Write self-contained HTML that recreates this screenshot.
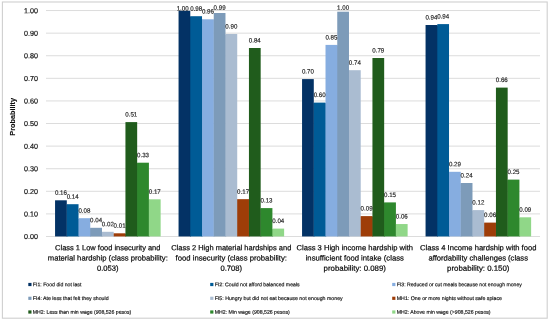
<!DOCTYPE html>
<html lang="en"><head><meta charset="utf-8"><title>Latent class probabilities</title>
<style>html,body{margin:0;padding:0;background:#fff}svg{display:block}
text{font-family:"Liberation Sans",sans-serif;fill:#111}
.ax{stroke:#111;stroke-width:.18px}
.cl{fill:#080808;stroke:#080808;stroke-width:.2px}
.dl{fill:#1c1c1c;stroke:#1c1c1c;stroke-width:.15px}
.lg{fill:#111;stroke:#111;stroke-width:.16px}
.yt{font-weight:bold;stroke:#111;stroke-width:.12px}
</style></head><body>
<svg width="550" height="321" viewBox="0 0 550 321">
<rect x="0" y="0" width="550" height="321" fill="#fff"/>
<rect x="2.4" y="2" width="544.8" height="316.2" fill="#fff" stroke="#cfcfcf" stroke-width="1.1"/>
<line x1="46.0" x2="540.0" y1="236.50" y2="236.50" stroke="#dcdcdc" stroke-width="1"/>
<text transform="translate(37.90,239.10) rotate(0.03)" font-size="7.2" text-anchor="end" textLength="14.0" lengthAdjust="spacingAndGlyphs" class="ax">0.00</text>
<line x1="46.0" x2="540.0" y1="213.91" y2="213.91" stroke="#dcdcdc" stroke-width="1"/>
<text transform="translate(37.90,216.50) rotate(0.03)" font-size="7.2" text-anchor="end" textLength="14.0" lengthAdjust="spacingAndGlyphs" class="ax">0.10</text>
<line x1="46.0" x2="540.0" y1="191.31" y2="191.31" stroke="#dcdcdc" stroke-width="1"/>
<text transform="translate(37.90,193.91) rotate(0.03)" font-size="7.2" text-anchor="end" textLength="14.0" lengthAdjust="spacingAndGlyphs" class="ax">0.20</text>
<line x1="46.0" x2="540.0" y1="168.72" y2="168.72" stroke="#dcdcdc" stroke-width="1"/>
<text transform="translate(37.90,171.31) rotate(0.03)" font-size="7.2" text-anchor="end" textLength="14.0" lengthAdjust="spacingAndGlyphs" class="ax">0.30</text>
<line x1="46.0" x2="540.0" y1="146.12" y2="146.12" stroke="#dcdcdc" stroke-width="1"/>
<text transform="translate(37.90,148.72) rotate(0.03)" font-size="7.2" text-anchor="end" textLength="14.0" lengthAdjust="spacingAndGlyphs" class="ax">0.40</text>
<line x1="46.0" x2="540.0" y1="123.53" y2="123.53" stroke="#dcdcdc" stroke-width="1"/>
<text transform="translate(37.90,126.12) rotate(0.03)" font-size="7.2" text-anchor="end" textLength="14.0" lengthAdjust="spacingAndGlyphs" class="ax">0.50</text>
<line x1="46.0" x2="540.0" y1="100.93" y2="100.93" stroke="#dcdcdc" stroke-width="1"/>
<text transform="translate(37.90,103.53) rotate(0.03)" font-size="7.2" text-anchor="end" textLength="14.0" lengthAdjust="spacingAndGlyphs" class="ax">0.60</text>
<line x1="46.0" x2="540.0" y1="78.34" y2="78.34" stroke="#dcdcdc" stroke-width="1"/>
<text transform="translate(37.90,80.94) rotate(0.03)" font-size="7.2" text-anchor="end" textLength="14.0" lengthAdjust="spacingAndGlyphs" class="ax">0.70</text>
<line x1="46.0" x2="540.0" y1="55.74" y2="55.74" stroke="#dcdcdc" stroke-width="1"/>
<text transform="translate(37.90,58.34) rotate(0.03)" font-size="7.2" text-anchor="end" textLength="14.0" lengthAdjust="spacingAndGlyphs" class="ax">0.80</text>
<line x1="46.0" x2="540.0" y1="33.15" y2="33.15" stroke="#dcdcdc" stroke-width="1"/>
<text transform="translate(37.90,35.75) rotate(0.03)" font-size="7.2" text-anchor="end" textLength="14.0" lengthAdjust="spacingAndGlyphs" class="ax">0.90</text>
<line x1="46.0" x2="540.0" y1="10.55" y2="10.55" stroke="#dcdcdc" stroke-width="1"/>
<text transform="translate(37.90,13.15) rotate(0.03)" font-size="7.2" text-anchor="end" textLength="14.0" lengthAdjust="spacingAndGlyphs" class="ax">1.00</text>
<rect x="55.06" y="200.30" width="11.73" height="36.15" fill="#033265"/>
<rect x="66.50" y="204.70" width="1" height="31.75" fill="#033265"/>
<rect x="66.80" y="204.20" width="11.73" height="32.25" fill="#005b96"/>
<rect x="78.23" y="218.70" width="1" height="17.75" fill="#005b96"/>
<rect x="78.53" y="218.20" width="11.73" height="18.25" fill="#86ade0"/>
<rect x="89.96" y="228.30" width="1" height="8.15" fill="#86ade0"/>
<rect x="90.25" y="227.80" width="11.73" height="8.65" fill="#7d9bb9"/>
<rect x="101.69" y="232.30" width="1" height="4.15" fill="#7d9bb9"/>
<rect x="101.98" y="231.80" width="11.73" height="4.65" fill="#aabcd1"/>
<rect x="113.42" y="233.80" width="1" height="2.65" fill="#aabcd1"/>
<rect x="113.72" y="233.30" width="11.73" height="3.15" fill="#9e3d08"/>
<rect x="125.15" y="233.80" width="1" height="2.65" fill="#9e3d08"/>
<rect x="125.44" y="122.10" width="11.73" height="114.35" fill="#205c1c"/>
<rect x="136.87" y="163.20" width="1" height="73.25" fill="#205c1c"/>
<rect x="137.18" y="162.70" width="11.73" height="73.75" fill="#2e882d"/>
<rect x="148.60" y="199.80" width="1" height="36.65" fill="#2e882d"/>
<rect x="148.91" y="199.30" width="11.73" height="37.15" fill="#90d788"/>
<rect x="178.56" y="10.80" width="11.73" height="225.65" fill="#033265"/>
<rect x="189.99" y="16.70" width="1" height="219.75" fill="#033265"/>
<rect x="190.29" y="16.20" width="11.73" height="220.25" fill="#005b96"/>
<rect x="201.72" y="19.80" width="1" height="216.65" fill="#005b96"/>
<rect x="202.03" y="19.30" width="11.73" height="217.15" fill="#86ade0"/>
<rect x="213.45" y="19.80" width="1" height="216.65" fill="#86ade0"/>
<rect x="213.75" y="13.00" width="11.73" height="223.45" fill="#7d9bb9"/>
<rect x="225.18" y="34.50" width="1" height="201.95" fill="#7d9bb9"/>
<rect x="225.49" y="34.00" width="11.73" height="202.45" fill="#aabcd1"/>
<rect x="236.91" y="199.65" width="1" height="36.80" fill="#aabcd1"/>
<rect x="237.22" y="199.15" width="11.73" height="37.30" fill="#9e3d08"/>
<rect x="248.64" y="199.65" width="1" height="36.80" fill="#9e3d08"/>
<rect x="248.94" y="48.00" width="11.73" height="188.45" fill="#205c1c"/>
<rect x="260.38" y="208.60" width="1" height="27.85" fill="#205c1c"/>
<rect x="260.68" y="208.10" width="11.73" height="28.35" fill="#2e882d"/>
<rect x="272.11" y="229.10" width="1" height="7.35" fill="#2e882d"/>
<rect x="272.40" y="228.60" width="11.73" height="7.85" fill="#90d788"/>
<rect x="302.06" y="79.10" width="11.73" height="157.35" fill="#033265"/>
<rect x="313.50" y="103.10" width="1" height="133.35" fill="#033265"/>
<rect x="313.80" y="102.60" width="11.73" height="133.85" fill="#005b96"/>
<rect x="325.23" y="103.10" width="1" height="133.35" fill="#005b96"/>
<rect x="325.52" y="44.90" width="11.73" height="191.55" fill="#86ade0"/>
<rect x="336.95" y="45.40" width="1" height="191.05" fill="#86ade0"/>
<rect x="337.25" y="11.70" width="11.73" height="224.75" fill="#7d9bb9"/>
<rect x="348.69" y="70.70" width="1" height="165.75" fill="#7d9bb9"/>
<rect x="348.99" y="70.20" width="11.73" height="166.25" fill="#aabcd1"/>
<rect x="360.42" y="216.60" width="1" height="19.85" fill="#aabcd1"/>
<rect x="360.72" y="216.10" width="11.73" height="20.35" fill="#9e3d08"/>
<rect x="372.15" y="216.60" width="1" height="19.85" fill="#9e3d08"/>
<rect x="372.44" y="58.00" width="11.73" height="178.45" fill="#205c1c"/>
<rect x="383.88" y="202.90" width="1" height="33.55" fill="#205c1c"/>
<rect x="384.18" y="202.40" width="11.73" height="34.05" fill="#2e882d"/>
<rect x="395.61" y="224.55" width="1" height="11.90" fill="#2e882d"/>
<rect x="395.90" y="224.05" width="11.73" height="12.40" fill="#90d788"/>
<rect x="425.56" y="25.00" width="11.73" height="211.45" fill="#033265"/>
<rect x="437.00" y="25.50" width="1" height="210.95" fill="#033265"/>
<rect x="437.30" y="24.10" width="11.73" height="212.35" fill="#005b96"/>
<rect x="448.73" y="172.30" width="1" height="64.15" fill="#005b96"/>
<rect x="449.02" y="171.80" width="11.73" height="64.65" fill="#86ade0"/>
<rect x="460.45" y="183.50" width="1" height="52.95" fill="#86ade0"/>
<rect x="460.75" y="183.00" width="11.73" height="53.45" fill="#7d9bb9"/>
<rect x="472.19" y="210.60" width="1" height="25.85" fill="#7d9bb9"/>
<rect x="472.49" y="210.10" width="11.73" height="26.35" fill="#aabcd1"/>
<rect x="483.92" y="223.10" width="1" height="13.35" fill="#aabcd1"/>
<rect x="484.22" y="222.60" width="11.73" height="13.85" fill="#9e3d08"/>
<rect x="495.65" y="223.10" width="1" height="13.35" fill="#9e3d08"/>
<rect x="495.94" y="87.60" width="11.73" height="148.85" fill="#205c1c"/>
<rect x="507.38" y="180.10" width="1" height="56.35" fill="#205c1c"/>
<rect x="507.68" y="179.60" width="11.73" height="56.85" fill="#2e882d"/>
<rect x="519.11" y="217.80" width="1" height="18.65" fill="#2e882d"/>
<rect x="519.40" y="217.30" width="11.73" height="19.15" fill="#90d788"/>
<text transform="translate(60.93,194.80) rotate(0.03)" font-size="6.3" text-anchor="middle" textLength="12.0" lengthAdjust="spacingAndGlyphs" class="dl">0.16</text>
<text transform="translate(72.66,198.70) rotate(0.03)" font-size="6.3" text-anchor="middle" textLength="12.0" lengthAdjust="spacingAndGlyphs" class="dl">0.14</text>
<text transform="translate(84.39,212.70) rotate(0.03)" font-size="6.3" text-anchor="middle" textLength="12.0" lengthAdjust="spacingAndGlyphs" class="dl">0.08</text>
<text transform="translate(96.12,222.30) rotate(0.03)" font-size="6.3" text-anchor="middle" textLength="12.0" lengthAdjust="spacingAndGlyphs" class="dl">0.04</text>
<text transform="translate(107.85,226.30) rotate(0.03)" font-size="6.3" text-anchor="middle" textLength="12.0" lengthAdjust="spacingAndGlyphs" class="dl">0.02</text>
<text transform="translate(119.58,227.80) rotate(0.03)" font-size="6.3" text-anchor="middle" textLength="12.0" lengthAdjust="spacingAndGlyphs" class="dl">0.01</text>
<text transform="translate(131.31,116.60) rotate(0.03)" font-size="6.3" text-anchor="middle" textLength="12.0" lengthAdjust="spacingAndGlyphs" class="dl">0.51</text>
<text transform="translate(143.04,157.20) rotate(0.03)" font-size="6.3" text-anchor="middle" textLength="12.0" lengthAdjust="spacingAndGlyphs" class="dl">0.33</text>
<text transform="translate(154.77,193.80) rotate(0.03)" font-size="6.3" text-anchor="middle" textLength="12.0" lengthAdjust="spacingAndGlyphs" class="dl">0.17</text>
<text transform="translate(182.63,10.60) rotate(0.03)" font-size="6.3" text-anchor="middle" textLength="12.0" lengthAdjust="spacingAndGlyphs" class="dl">1.00</text>
<text transform="translate(196.16,10.70) rotate(0.03)" font-size="6.3" text-anchor="middle" textLength="12.0" lengthAdjust="spacingAndGlyphs" class="dl">0.98</text>
<text transform="translate(207.89,13.60) rotate(0.03)" font-size="6.3" text-anchor="middle" textLength="12.0" lengthAdjust="spacingAndGlyphs" class="dl">0.96</text>
<text transform="translate(219.62,9.70) rotate(0.03)" font-size="6.3" text-anchor="middle" textLength="12.0" lengthAdjust="spacingAndGlyphs" class="dl">0.99</text>
<text transform="translate(231.35,28.50) rotate(0.03)" font-size="6.3" text-anchor="middle" textLength="12.0" lengthAdjust="spacingAndGlyphs" class="dl">0.90</text>
<text transform="translate(243.08,193.65) rotate(0.03)" font-size="6.3" text-anchor="middle" textLength="12.0" lengthAdjust="spacingAndGlyphs" class="dl">0.17</text>
<text transform="translate(254.81,42.50) rotate(0.03)" font-size="6.3" text-anchor="middle" textLength="12.0" lengthAdjust="spacingAndGlyphs" class="dl">0.84</text>
<text transform="translate(266.54,202.60) rotate(0.03)" font-size="6.3" text-anchor="middle" textLength="12.0" lengthAdjust="spacingAndGlyphs" class="dl">0.13</text>
<text transform="translate(278.27,223.10) rotate(0.03)" font-size="6.3" text-anchor="middle" textLength="12.0" lengthAdjust="spacingAndGlyphs" class="dl">0.04</text>
<text transform="translate(307.93,73.60) rotate(0.03)" font-size="6.3" text-anchor="middle" textLength="12.0" lengthAdjust="spacingAndGlyphs" class="dl">0.70</text>
<text transform="translate(319.66,97.10) rotate(0.03)" font-size="6.3" text-anchor="middle" textLength="12.0" lengthAdjust="spacingAndGlyphs" class="dl">0.60</text>
<text transform="translate(331.39,39.40) rotate(0.03)" font-size="6.3" text-anchor="middle" textLength="12.0" lengthAdjust="spacingAndGlyphs" class="dl">0.85</text>
<text transform="translate(343.12,9.80) rotate(0.03)" font-size="6.3" text-anchor="middle" textLength="12.0" lengthAdjust="spacingAndGlyphs" class="dl">1.00</text>
<text transform="translate(354.85,64.70) rotate(0.03)" font-size="6.3" text-anchor="middle" textLength="12.0" lengthAdjust="spacingAndGlyphs" class="dl">0.74</text>
<text transform="translate(366.58,210.60) rotate(0.03)" font-size="6.3" text-anchor="middle" textLength="12.0" lengthAdjust="spacingAndGlyphs" class="dl">0.09</text>
<text transform="translate(378.31,52.50) rotate(0.03)" font-size="6.3" text-anchor="middle" textLength="12.0" lengthAdjust="spacingAndGlyphs" class="dl">0.79</text>
<text transform="translate(390.04,196.90) rotate(0.03)" font-size="6.3" text-anchor="middle" textLength="12.0" lengthAdjust="spacingAndGlyphs" class="dl">0.15</text>
<text transform="translate(401.77,218.55) rotate(0.03)" font-size="6.3" text-anchor="middle" textLength="12.0" lengthAdjust="spacingAndGlyphs" class="dl">0.06</text>
<text transform="translate(431.43,19.50) rotate(0.03)" font-size="6.3" text-anchor="middle" textLength="12.0" lengthAdjust="spacingAndGlyphs" class="dl">0.94</text>
<text transform="translate(443.16,18.60) rotate(0.03)" font-size="6.3" text-anchor="middle" textLength="12.0" lengthAdjust="spacingAndGlyphs" class="dl">0.94</text>
<text transform="translate(454.89,166.30) rotate(0.03)" font-size="6.3" text-anchor="middle" textLength="12.0" lengthAdjust="spacingAndGlyphs" class="dl">0.29</text>
<text transform="translate(466.62,177.50) rotate(0.03)" font-size="6.3" text-anchor="middle" textLength="12.0" lengthAdjust="spacingAndGlyphs" class="dl">0.24</text>
<text transform="translate(478.35,204.60) rotate(0.03)" font-size="6.3" text-anchor="middle" textLength="12.0" lengthAdjust="spacingAndGlyphs" class="dl">0.12</text>
<text transform="translate(490.08,217.10) rotate(0.03)" font-size="6.3" text-anchor="middle" textLength="12.0" lengthAdjust="spacingAndGlyphs" class="dl">0.06</text>
<text transform="translate(501.81,82.10) rotate(0.03)" font-size="6.3" text-anchor="middle" textLength="12.0" lengthAdjust="spacingAndGlyphs" class="dl">0.66</text>
<text transform="translate(513.54,174.10) rotate(0.03)" font-size="6.3" text-anchor="middle" textLength="12.0" lengthAdjust="spacingAndGlyphs" class="dl">0.25</text>
<text transform="translate(525.27,211.80) rotate(0.03)" font-size="6.3" text-anchor="middle" textLength="12.0" lengthAdjust="spacingAndGlyphs" class="dl">0.09</text>
<text transform="translate(107.75,250.25) rotate(0.03)" font-size="7.5" text-anchor="middle" textLength="105.3" lengthAdjust="spacingAndGlyphs" class="cl">Class 1 Low food insecurity and</text>
<text transform="translate(107.75,260.55) rotate(0.03)" font-size="7.5" text-anchor="middle" textLength="120.0" lengthAdjust="spacingAndGlyphs" class="cl">material hardship (class probability:</text>
<text transform="translate(107.75,270.85) rotate(0.03)" font-size="7.5" text-anchor="middle" textLength="21.6" lengthAdjust="spacingAndGlyphs" class="cl">0.053)</text>
<text transform="translate(231.25,250.25) rotate(0.03)" font-size="7.5" text-anchor="middle" textLength="120.1" lengthAdjust="spacingAndGlyphs" class="cl">Class 2 High material hardships and</text>
<text transform="translate(231.25,260.55) rotate(0.03)" font-size="7.5" text-anchor="middle" textLength="111.4" lengthAdjust="spacingAndGlyphs" class="cl">food insecurity (class probability:</text>
<text transform="translate(231.25,270.85) rotate(0.03)" font-size="7.5" text-anchor="middle" textLength="21.6" lengthAdjust="spacingAndGlyphs" class="cl">0.708)</text>
<text transform="translate(354.75,250.25) rotate(0.03)" font-size="7.5" text-anchor="middle" textLength="116.5" lengthAdjust="spacingAndGlyphs" class="cl">Class 3 High income hardship with</text>
<text transform="translate(354.75,260.55) rotate(0.03)" font-size="7.5" text-anchor="middle" textLength="98.2" lengthAdjust="spacingAndGlyphs" class="cl">insufficient food intake (class</text>
<text transform="translate(354.75,270.85) rotate(0.03)" font-size="7.5" text-anchor="middle" textLength="62.4" lengthAdjust="spacingAndGlyphs" class="cl">probability: 0.089)</text>
<text transform="translate(478.25,250.25) rotate(0.03)" font-size="7.5" text-anchor="middle" textLength="116.3" lengthAdjust="spacingAndGlyphs" class="cl">Class 4 Income hardship with food</text>
<text transform="translate(478.25,260.55) rotate(0.03)" font-size="7.5" text-anchor="middle" textLength="99.5" lengthAdjust="spacingAndGlyphs" class="cl">affordability challenges (class</text>
<text transform="translate(478.25,270.85) rotate(0.03)" font-size="7.5" text-anchor="middle" textLength="62.3" lengthAdjust="spacingAndGlyphs" class="cl">probability: 0.150)</text>
<text transform="translate(14.70,116.80) rotate(-90)" font-size="7.3" text-anchor="middle" class="yt">Probability</text>
<rect x="28.3" y="282.9" width="3.2" height="3.2" fill="#033265"/>
<text transform="translate(32.80,286.25) rotate(0.03)" font-size="5.2" textLength="48.6" lengthAdjust="spacingAndGlyphs" class="lg">FI1: Food did not last</text>
<rect x="210.2" y="282.9" width="3.2" height="3.2" fill="#005b96"/>
<text transform="translate(214.70,286.25) rotate(0.03)" font-size="5.2" textLength="85.0" lengthAdjust="spacingAndGlyphs" class="lg">FI2: Could not afford balanced meals</text>
<rect x="392.2" y="282.9" width="3.2" height="3.2" fill="#86ade0"/>
<text transform="translate(396.70,286.25) rotate(0.03)" font-size="5.2" textLength="125.2" lengthAdjust="spacingAndGlyphs" class="lg">FI3: Reduced or cut meals because not enough money</text>
<rect x="28.3" y="296.7" width="3.2" height="3.2" fill="#7d9bb9"/>
<text transform="translate(32.80,300.05) rotate(0.03)" font-size="5.2" textLength="75.8" lengthAdjust="spacingAndGlyphs" class="lg">FI4: Ate less that felt they should</text>
<rect x="210.2" y="296.7" width="3.2" height="3.2" fill="#aabcd1"/>
<text transform="translate(214.70,300.05) rotate(0.03)" font-size="5.2" textLength="128.0" lengthAdjust="spacingAndGlyphs" class="lg">FI5: Hungry but did not eat because not enough money</text>
<rect x="392.2" y="296.7" width="3.2" height="3.2" fill="#9e3d08"/>
<text transform="translate(396.70,300.05) rotate(0.03)" font-size="5.2" textLength="105.3" lengthAdjust="spacingAndGlyphs" class="lg">MH1: One or more nights without safe splace</text>
<rect x="28.3" y="310.4" width="3.2" height="3.2" fill="#205c1c"/>
<text transform="translate(32.80,313.75) rotate(0.03)" font-size="5.2" textLength="98.5" lengthAdjust="spacingAndGlyphs" class="lg">MH2: Less than min wage (908,526 pesos)</text>
<rect x="210.2" y="310.4" width="3.2" height="3.2" fill="#2e882d"/>
<text transform="translate(214.70,313.75) rotate(0.03)" font-size="5.2" textLength="75.0" lengthAdjust="spacingAndGlyphs" class="lg">MH2: Min wage (908,526 pesos)</text>
<rect x="392.2" y="310.4" width="3.2" height="3.2" fill="#90d788"/>
<text transform="translate(396.70,313.75) rotate(0.03)" font-size="5.2" textLength="93.9" lengthAdjust="spacingAndGlyphs" class="lg">MH2: Above min wage (&gt;908,526 pesos)</text>
</svg></body></html>
